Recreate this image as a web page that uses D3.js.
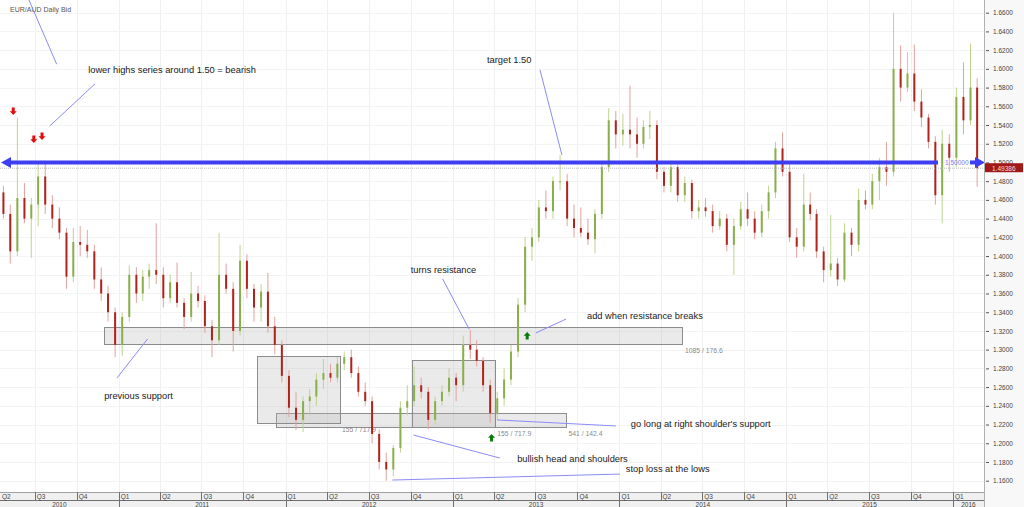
<!DOCTYPE html>
<html>
<head>
<meta charset="utf-8">
<script src="https://cdn.jsdelivr.net/npm/d3@7"></script>
<style>
  body { margin: 0; background: #fff; }
  svg { display: block; font-family: "Liberation Sans", Arial, sans-serif; }
</style>
</head>
<body>
<svg id="chart" width="1024" height="507"></svg>
<script>
// EUR/AUD (start date of each bar)
var binStarts = [
  "2010-04-16","2010-05-01","2010-05-16","2010-06-01","2010-06-16","2010-07-01","2010-07-16","2010-08-01","2010-08-16","2010-09-01",
  "2010-09-16","2010-10-01","2010-10-16","2010-11-01","2010-11-16","2010-12-01","2010-12-16","2011-01-01","2011-01-16","2011-02-01",
  "2011-02-16","2011-03-01","2011-03-16","2011-04-01","2011-04-16","2011-05-01","2011-05-16","2011-06-01","2011-06-16","2011-07-01",
  "2011-07-16","2011-08-01","2011-08-16","2011-09-01","2011-09-16","2011-10-01","2011-10-16","2011-11-01","2011-11-16","2011-12-01",
  "2011-12-16","2012-01-01","2012-01-16","2012-02-01","2012-02-16","2012-03-01","2012-03-16","2012-04-01","2012-04-16","2012-05-01",
  "2012-05-16","2012-06-01","2012-06-16","2012-07-01","2012-07-16","2012-08-01","2012-08-16","2012-09-01","2012-09-16","2012-10-01",
  "2012-10-16","2012-11-01","2012-11-16","2012-12-01","2012-12-16","2013-01-01","2013-01-16","2013-02-01","2013-02-16","2013-03-01",
  "2013-03-16","2013-04-01","2013-04-16","2013-05-01","2013-05-16","2013-06-01","2013-06-16","2013-07-01","2013-07-16","2013-08-01",
  "2013-08-16","2013-09-01","2013-09-16","2013-10-01","2013-10-16","2013-11-01","2013-11-16","2013-12-01","2013-12-16","2014-01-01",
  "2014-01-16","2014-02-01","2014-02-16","2014-03-01","2014-03-16","2014-04-01","2014-04-16","2014-05-01","2014-05-16","2014-06-01",
  "2014-06-16","2014-07-01","2014-07-16","2014-08-01","2014-08-16","2014-09-01","2014-09-16","2014-10-01","2014-10-16","2014-11-01",
  "2014-11-16","2014-12-01","2014-12-16","2015-01-01","2015-01-16","2015-02-01","2015-02-16","2015-03-01","2015-03-16","2015-04-01",
  "2015-04-16","2015-05-01","2015-05-16","2015-06-01","2015-06-16","2015-07-01","2015-07-16","2015-08-01","2015-08-16","2015-09-01",
  "2015-09-16","2015-10-01","2015-10-16","2015-11-01","2015-11-16","2015-12-01","2015-12-16","2016-01-01","2016-01-16","2016-02-01",
  "2016-02-16"
];
var highs = [
  1.475,1.455,1.548,1.478,1.462,1.501,1.500,1.465,1.452,1.430,
  1.430,1.432,1.428,1.412,1.388,1.368,1.345,1.340,1.390,1.388,
  1.385,1.392,1.435,1.388,1.380,1.393,1.355,1.383,1.368,1.358,
  1.332,1.425,1.392,1.372,1.412,1.402,1.370,1.370,1.382,1.335,
  1.310,1.278,1.255,1.250,1.258,1.275,1.290,1.285,1.292,1.298,
  1.300,1.282,1.265,1.250,1.215,1.190,1.198,1.245,1.262,1.282,
  1.270,1.260,1.250,1.262,1.280,1.275,1.315,1.321,1.310,1.292,
  1.268,1.255,1.280,1.305,1.355,1.420,1.430,1.460,1.470,1.485,
  1.508,1.488,1.455,1.452,1.440,1.450,1.500,1.558,1.555,1.552,
  1.582,1.548,1.545,1.555,1.545,1.495,1.502,1.498,1.485,1.482,
  1.460,1.462,1.455,1.448,1.445,1.440,1.458,1.468,1.448,1.455,
  1.475,1.522,1.532,1.498,1.430,1.488,1.468,1.450,1.410,1.444,
  1.398,1.435,1.430,1.472,1.470,1.488,1.505,1.522,1.660,1.625,
  1.618,1.626,1.578,1.552,1.528,1.535,1.530,1.580,1.607,1.627,
  1.590
];
var lows = [
  1.440,1.392,1.400,1.435,1.398,1.432,1.445,1.430,1.418,1.365,
  1.372,1.400,1.398,1.365,1.352,1.330,1.292,1.293,1.330,1.350,
  1.352,1.365,1.370,1.345,1.350,1.345,1.322,1.330,1.345,1.318,
  1.292,1.305,1.360,1.298,1.315,1.355,1.330,1.330,1.318,1.295,
  1.265,1.228,1.214,1.212,1.230,1.240,1.258,1.265,1.265,1.278,
  1.270,1.250,1.240,1.200,1.172,1.160,1.165,1.190,1.230,1.240,
  1.248,1.215,1.220,1.240,1.250,1.245,1.255,1.290,1.282,1.255,
  1.222,1.225,1.240,1.262,1.292,1.340,1.395,1.415,1.440,1.440,
  1.470,1.432,1.420,1.420,1.412,1.403,1.440,1.490,1.515,1.518,
  1.515,1.505,1.515,1.525,1.482,1.468,1.468,1.458,1.458,1.440,
  1.440,1.442,1.425,1.428,1.405,1.380,1.428,1.432,1.418,1.420,
  1.440,1.462,1.485,1.415,1.398,1.405,1.438,1.398,1.372,1.378,
  1.368,1.372,1.400,1.405,1.450,1.450,1.460,1.475,1.485,1.565,
  1.575,1.555,1.538,1.515,1.455,1.435,1.490,1.495,1.530,1.540,
  1.474
];
var closes = [
  1.445,1.405,1.462,1.440,1.455,1.485,1.455,1.440,1.425,1.378,
  1.415,1.412,1.405,1.375,1.360,1.340,1.305,1.335,1.380,1.360,
  1.378,1.385,1.380,1.355,1.372,1.350,1.335,1.360,1.352,1.325,
  1.310,1.380,1.365,1.320,1.395,1.365,1.345,1.362,1.325,1.305,
  1.272,1.238,1.225,1.245,1.250,1.268,1.275,1.270,1.285,1.292,
  1.275,1.255,1.245,1.210,1.180,1.172,1.195,1.238,1.245,1.262,
  1.255,1.225,1.245,1.255,1.270,1.262,1.305,1.300,1.288,1.262,
  1.232,1.248,1.268,1.298,1.348,1.410,1.420,1.452,1.448,1.480,
  1.480,1.440,1.430,1.425,1.418,1.445,1.495,1.545,1.530,1.535,
  1.530,1.520,1.538,1.540,1.490,1.475,1.495,1.465,1.478,1.448,
  1.452,1.448,1.432,1.440,1.412,1.432,1.450,1.440,1.425,1.448,
  1.468,1.515,1.490,1.420,1.410,1.455,1.445,1.405,1.385,1.392,
  1.375,1.425,1.412,1.460,1.455,1.480,1.495,1.490,1.600,1.580,
  1.595,1.565,1.548,1.522,1.465,1.520,1.505,1.570,1.545,1.580,
  1.49386
];
var firstOpen = 1.468;   // each later bar opens at the previous close
var lastPrice = 1.49386;
var priceTicks = [1.16,1.18,1.20,1.22,1.24,1.26,1.28,1.30,1.32,1.34,1.36,1.38,1.40,1.42,
                  1.44,1.46,1.48,1.50,1.52,1.54,1.56,1.58,1.60,1.62,1.64,1.66];

// drawn-on annotations, in date / price units
var levelPrice = 1.50;
var zones = [
  { from: "2010-11-30", to: "2014-05-19", lo: 1.3060, hi: 1.3242, label: "1085 / 176.6" },
  { from: "2011-12-12", to: "2013-09-06", lo: 1.2174, hi: 1.2323, label: "541 / 142.4" },
  { from: "2011-10-30", to: "2012-04-28", lo: 1.2216, hi: 1.2932, label: "155 / 717.9" },
  { from: "2012-10-03", to: "2013-04-03", lo: 1.2174, hi: 1.2889, label: "155 / 717.9" }
];
var noteLines = [
  ["2010-06-18", 1.674, "2010-08-18", 1.605],
  ["2010-11-10", 1.584, "2010-08-03", 1.539],
  ["2013-07-11", 1.599, "2013-08-28", 1.508],
  ["2012-12-10", 1.3755, "2013-02-06", 1.322],
  ["2013-09-06", 1.3327, "2013-07-02", 1.3178],
  ["2010-12-28", 1.2697, "2011-03-05", 1.3114],
  ["2013-04-08", 1.2249, "2013-12-24", 1.2185],
  ["2012-10-07", 1.2088, "2013-04-14", 1.1842],
  ["2012-08-22", 1.1607, "2014-01-02", 1.1671]
];
var notes = [
  ["lower highs series around 1.50 = bearish", "2010-10-26", 1.5961],
  ["target 1.50", "2013-03-17", 1.6063],
  ["turns resistance", "2012-10-01", 1.3824],
  ["add when resistance breaks", "2013-10-22", 1.3327],
  ["previous support", "2010-11-30", 1.2473],
  ["go long at right shoulder's support", "2014-01-26", 1.2179],
  ["bullish head and shoulders", "2013-05-22", 1.1800],
  ["stop loss at the lows", "2014-01-15", 1.1698]
];
var sellArrows = [["2010-05-15", 1.5507], ["2010-06-29", 1.5208], ["2010-07-17", 1.5240]];
var buyArrows = [["2013-06-13", 1.3189], ["2013-03-27", 1.2099]];

var W = 1024, H = 507, plotRight = 984, plotBottom = 492;
var parse = d3.utcParse("%Y-%m-%d");
var svg = d3.select("#chart");

var x = d3.scaleUtc()
    .domain([parse("2010-04-16"), parse("2016-03-09")])
    .range([0, plotRight]);
var y = d3.scaleLinear().domain([1.16, 1.66]).range([480.7, 12.7]);

// panels
svg.append("rect").attr("x", plotRight).attr("y", 0).attr("width", W - plotRight).attr("height", H)
    .attr("fill", "#f8f8f8");
svg.append("rect").attr("x", 0).attr("y", plotBottom).attr("width", plotRight).attr("height", H - plotBottom)
    .attr("fill", "#f0f0f0");

// grid
var quarters = d3.utcMonth.every(3).range(d3.utcMonth.offset(x.domain()[0], -3), x.domain()[1]);
svg.append("g").selectAll("line")
    .data(quarters.filter(function (q) { return x(q) > 0; }))
    .enter().append("line")
    .attr("x1", function (d) { return Math.round(x(d)) + 0.5; })
    .attr("x2", function (d) { return Math.round(x(d)) + 0.5; })
    .attr("y1", 0).attr("y2", plotBottom)
    .attr("stroke", "#f0f0f0");
svg.append("g").selectAll("line")
    .data(priceTicks)
    .enter().append("line")
    .attr("x1", 0).attr("x2", plotRight)
    .attr("y1", function (d) { return Math.round(y(d)) + 0.5; })
    .attr("y2", function (d) { return Math.round(y(d)) + 0.5; })
    .attr("stroke", "#f3f3f3");

// title
svg.append("text").attr("x", 10).attr("y", 11.5)
    .style("font-size", "7px").attr("fill", "#555")
    .text("EUR/AUD  Daily Bid");

// zones
var zoneG = svg.append("g");
zones.forEach(function (z) {
  var x0 = x(parse(z.from)), x1 = x(parse(z.to));
  zoneG.append("rect")
      .attr("x", Math.round(x0) + 0.5).attr("y", Math.round(y(z.hi)) + 0.5)
      .attr("width", Math.round(x1 - x0)).attr("height", Math.round(y(z.lo) - y(z.hi)))
      .attr("fill", "rgba(185,185,185,0.3)").attr("stroke", "#8c8c8c");
  zoneG.append("text")
      .attr("x", x1 + 2.5).attr("y", y(z.lo) + 8.7)
      .style("font-size", "6.8px").attr("fill", "#8a8a8a")
      .text(z.label);
});

// candles
var bars = binStarts.map(function (s, i) {
  var start = parse(s);
  var end = i < binStarts.length - 1 ? parse(binStarts[i + 1]) : d3.utcDay.offset(start, 14);
  var open = i === 0 ? firstOpen : closes[i - 1];
  return { start: start, end: end, open: open, high: highs[i], low: lows[i], close: closes[i] };
});
var candle = svg.append("g").selectAll("g").data(bars).enter().append("g")
    .attr("transform", function (d) { return "translate(" + ((x(d.start) + x(d.end)) / 2) + ",0)"; });
candle.append("line")
    .attr("y1", function (d) { return y(d.high); })
    .attr("y2", function (d) { return y(d.low); })
    .attr("stroke", function (d) { return d.close >= d.open ? "#bcd48e" : "#e2a29e"; })
    .attr("stroke-width", 1);
candle.append("rect")
    .attr("x", -1).attr("width", 2)
    .attr("y", function (d) { return y(Math.max(d.open, d.close)); })
    .attr("height", function (d) { return Math.max(1, Math.abs(y(d.open) - y(d.close))); })
    .attr("fill", function (d) { return d.close >= d.open ? "#8aae4a" : "#b0231d"; });

// current price dotted line
svg.append("line")
    .attr("x1", 0).attr("x2", plotRight)
    .attr("y1", y(lastPrice)).attr("y2", y(lastPrice))
    .attr("stroke", "#b8b8b8").attr("stroke-dasharray", "1,1");

// 1.50 level, thick blue with arrow heads
var ly = y(levelPrice), blue = "#3d3df2";
svg.append("line").attr("x1", 8).attr("x2", 938).attr("y1", ly).attr("y2", ly)
    .attr("stroke", blue).attr("stroke-width", 4);
svg.append("path").attr("d", "M1," + ly + "L11," + (ly - 5.5) + "L11," + (ly + 5.5) + "Z").attr("fill", blue);
svg.append("line").attr("x1", 970).attr("x2", 977).attr("y1", ly).attr("y2", ly)
    .attr("stroke", blue).attr("stroke-width", 4);
svg.append("path").attr("d", "M985," + ly + "L975," + (ly - 5.5) + "L975," + (ly + 5.5) + "Z").attr("fill", blue);
svg.append("text").attr("x", 945).attr("y", ly + 2.5)
    .style("font-size", "6.5px").attr("fill", "#7f7ff8")
    .text(levelPrice.toFixed(5));

// annotation lines and notes
svg.append("g").selectAll("line").data(noteLines).enter().append("line")
    .attr("x1", function (d) { return x(parse(d[0])); })
    .attr("y1", function (d) { return y(d[1]); })
    .attr("x2", function (d) { return x(parse(d[2])); })
    .attr("y2", function (d) { return y(d[3]); })
    .attr("stroke", "#8b8bf6").attr("stroke-width", 1);
svg.append("g").selectAll("text").data(notes).enter().append("text")
    .attr("x", function (d) { return x(parse(d[1])); })
    .attr("y", function (d) { return y(d[2]); })
    .style("font-size", "9.3px").attr("fill", "#1a1a1a")
    .text(function (d) { return d[0]; });

// signal arrows (tip at the given point)
var downArrow = "M0,0L-3.5,-3.8L-1.5,-3.8L-1.5,-7.5L1.5,-7.5L1.5,-3.8L3.5,-3.8Z";
var upArrow = "M0,0L-3.5,3.8L-1.5,3.8L-1.5,7.5L1.5,7.5L1.5,3.8L3.5,3.8Z";
svg.append("g").selectAll("path").data(sellArrows).enter().append("path")
    .attr("transform", function (d) { return "translate(" + x(parse(d[0])) + "," + y(d[1]) + ")"; })
    .attr("d", downArrow).attr("fill", "#e10e0e");
svg.append("g").selectAll("path").data(buyArrows).enter().append("path")
    .attr("transform", function (d) { return "translate(" + x(parse(d[0])) + "," + y(d[1]) + ")"; })
    .attr("d", upArrow).attr("fill", "#0c7a0c");

// right price axis
svg.append("line").attr("x1", plotRight + 0.5).attr("x2", plotRight + 0.5).attr("y1", 0).attr("y2", H)
    .attr("stroke", "#b0b0b0");
var yAxis = svg.append("g").attr("transform", "translate(" + (plotRight + 1) + ",0)")
    .call(d3.axisRight(y).tickValues(priceTicks).tickSize(4).tickPadding(4)
      .tickFormat(function (d) { return d.toFixed(4); }));
yAxis.select(".domain").remove();
yAxis.selectAll(".tick line").attr("x1", 1).attr("stroke", "#555");
yAxis.selectAll("text").style("font-size", "6.5px")
    .style("font-family", "'Liberation Sans', Arial, sans-serif").attr("fill", "#444");

// last price tag
svg.append("rect").attr("x", plotRight + 1).attr("y", y(lastPrice) - 5).attr("width", 38).attr("height", 9)
    .attr("fill", "#a11a1a");
svg.append("text").attr("x", plotRight + 8).attr("y", y(lastPrice) + 2.3)
    .style("font-size", "6.5px").attr("fill", "#f3dada")
    .text(lastPrice.toFixed(5));

// bottom time axis: quarters and years
svg.append("line").attr("x1", 0).attr("x2", plotRight).attr("y1", plotBottom + 0.5).attr("y2", plotBottom + 0.5)
    .attr("stroke", "#a0a0a0");
svg.append("line").attr("x1", 0).attr("x2", plotRight).attr("y1", 500.5).attr("y2", 500.5)
    .attr("stroke", "#707070");
var qg = svg.append("g");
quarters.forEach(function (q) {
  var qx = x(q);
  if (qx > 0) {
    var isYear = q.getUTCMonth() === 0;
    qg.append("line").attr("x1", Math.round(qx) + 0.5).attr("x2", Math.round(qx) + 0.5)
        .attr("y1", plotBottom).attr("y2", isYear ? H : 500)
        .attr("stroke", "#707070");
  }
  qg.append("text").attr("x", Math.max(qx, 0) + 2).attr("y", 498.5)
      .style("font-size", "6.5px").attr("fill", "#444")
      .text("Q" + (q.getUTCMonth() / 3 + 1));
});
var years = d3.utcYear.range(d3.utcYear.floor(x.domain()[0]), x.domain()[1]);
years.forEach(function (yr) {
  var a = Math.max(0, x(yr)), b = Math.min(plotRight, x(d3.utcYear.offset(yr, 1)));
  qg.append("text").attr("x", (a + b) / 2).attr("y", 506.5).attr("text-anchor", "middle")
      .style("font-size", "6.5px").attr("fill", "#444")
      .text(yr.getUTCFullYear());
});
</script>
</body>
</html>
